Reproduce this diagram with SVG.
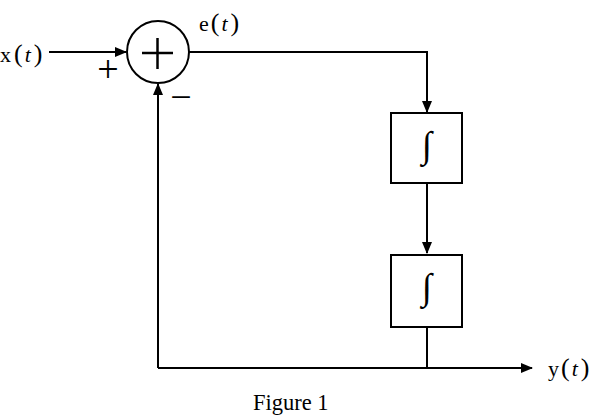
<svg xmlns="http://www.w3.org/2000/svg" width="590" height="417" viewBox="0 0 590 417">
<style>
.ln{stroke:#000;stroke-width:2;fill:none}
.bx{stroke:#000;stroke-width:2;fill:#fff}
.tx{font-family:"Liberation Serif",serif;font-size:22px;fill:#000}
.it{font-style:italic}
.pr{font-size:26px}
.sg{font-family:"Liberation Serif",serif;font-size:38px;fill:#000}
.ig{font-family:"Liberation Serif",serif;font-size:37px;fill:#000}
</style>
<defs>
<marker id="ar" markerWidth="12" markerHeight="10" refX="11" refY="5" orient="auto" markerUnits="userSpaceOnUse">
<path d="M0,0 L12,5 L0,10 Z" fill="#000"/>
</marker>
</defs>
<g id="connectors">
<line class="ln" x1="49" y1="52" x2="126" y2="52" marker-end="url(#ar)"/>
<polyline class="ln" points="189,52 427,52 427,112" marker-end="url(#ar)"/>
<line class="ln" x1="427" y1="183" x2="427" y2="253" marker-end="url(#ar)"/>
<line class="ln" x1="427" y1="327" x2="427" y2="368"/>
<line class="ln" x1="158" y1="368" x2="532" y2="368" marker-end="url(#ar)"/>
<line class="ln" x1="158" y1="368" x2="158" y2="84" marker-end="url(#ar)"/>
</g>
<g id="sum">
<circle class="ln" cx="158" cy="52" r="31"/>
<line class="ln" x1="142" y1="53" x2="173" y2="53" style="stroke-width:2.5"/>
<line class="ln" x1="157.5" y1="38" x2="157.5" y2="69" style="stroke-width:2.5"/>
</g>
<g id="int1">
<rect class="bx" x="391" y="113" width="71" height="70"/>
<text class="ig" x="427" y="157" text-anchor="middle">∫</text>
</g>
<g id="int2">
<rect class="bx" x="391" y="255" width="71" height="72"/>
<text class="ig" x="427" y="299" text-anchor="middle">∫</text>
</g>
<g id="labels">
<text class="tx" x="0" y="62">x<tspan class="pr" dx="3">(</tspan><tspan class="it" dx="2">t</tspan><tspan class="pr" dx="3">)</tspan></text>
<text class="tx" x="199" y="31">e<tspan class="pr" dx="2">(</tspan><tspan class="it" dx="2">t</tspan><tspan class="pr" dx="3">)</tspan></text>
<text class="tx" x="548" y="376">y<tspan class="pr" dx="2">(</tspan><tspan class="it" dx="2">t</tspan><tspan class="pr" dx="3">)</tspan></text>
<text class="sg" x="108" y="82" text-anchor="middle">+</text>
<text class="sg" x="181" y="110" text-anchor="middle">−</text>
<text class="tx" x="253" y="410" style="font-size:22.5px">Figure 1</text>
</g>
</svg>
